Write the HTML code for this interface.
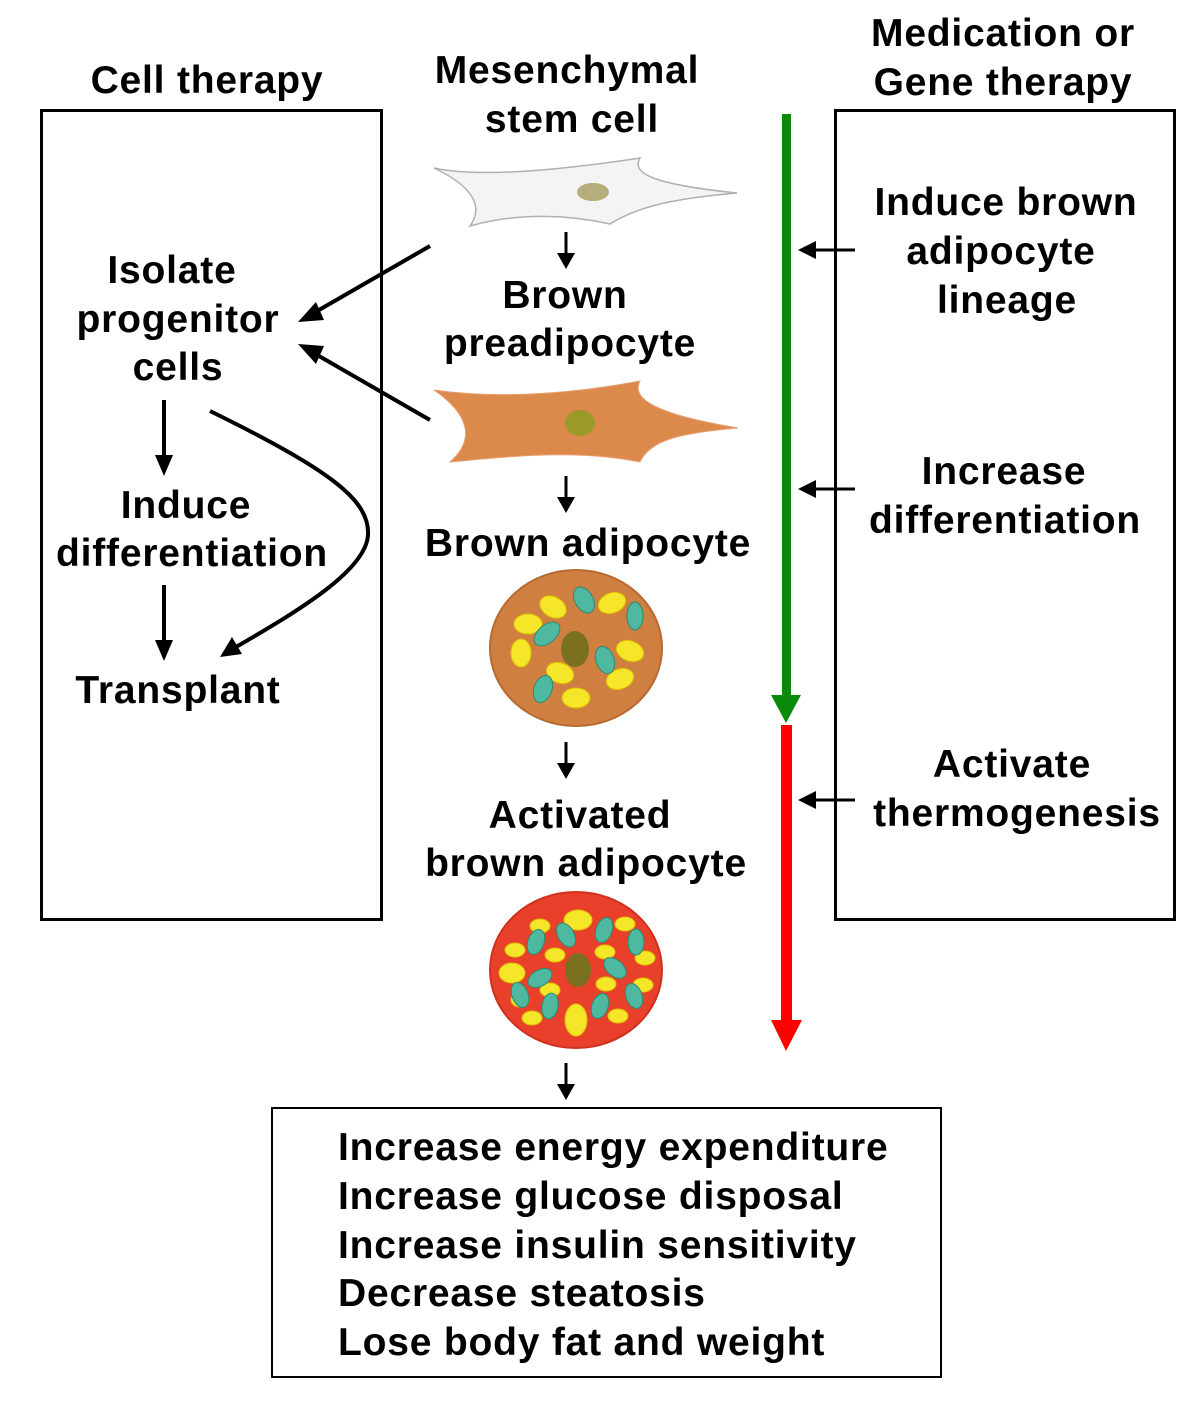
<!DOCTYPE html>
<html><head><meta charset="utf-8"><style>
html,body{margin:0;padding:0;background:#fff;}
svg{display:block;}
text{font-family:"Liberation Sans",Arial,sans-serif;font-weight:bold;font-size:39px;letter-spacing:0.8px;fill:#000;}
</style></head><body>
<svg width="1200" height="1401" viewBox="0 0 1200 1401" xmlns="http://www.w3.org/2000/svg">
<!-- boxes -->
<rect x="41.5" y="110.5" width="340" height="809" fill="none" stroke="#000" stroke-width="3"/>
<rect x="835.5" y="110.5" width="339" height="809" fill="none" stroke="#000" stroke-width="3"/>
<rect x="272" y="1108" width="669" height="269" fill="none" stroke="#000" stroke-width="2"/>

<!-- titles -->
<text x="207" y="93" text-anchor="middle">Cell therapy</text>
<text x="567" y="83" text-anchor="middle">Mesenchymal</text>
<text x="572" y="132" text-anchor="middle">stem cell</text>
<text x="1003" y="46" text-anchor="middle">Medication or</text>
<text x="1003" y="95" text-anchor="middle">Gene therapy</text>

<!-- left texts -->
<text x="172" y="283" text-anchor="middle">Isolate</text>
<text x="178" y="332" text-anchor="middle">progenitor</text>
<text x="178" y="380" text-anchor="middle">cells</text>
<text x="186" y="518" text-anchor="middle">Induce</text>
<text x="192" y="566" text-anchor="middle">differentiation</text>
<text x="178" y="703" text-anchor="middle">Transplant</text>

<!-- center texts -->
<text x="565" y="308" text-anchor="middle">Brown</text>
<text x="570" y="356" text-anchor="middle">preadipocyte</text>
<text x="588" y="556" text-anchor="middle">Brown adipocyte</text>
<text x="580" y="828" text-anchor="middle">Activated</text>
<text x="586" y="876" text-anchor="middle">brown adipocyte</text>

<!-- right texts -->
<text x="1006" y="215" text-anchor="middle">Induce brown</text>
<text x="1001" y="264" text-anchor="middle">adipocyte</text>
<text x="1007" y="313" text-anchor="middle">lineage</text>
<text x="1004" y="484" text-anchor="middle">Increase</text>
<text x="1005" y="533" text-anchor="middle">differentiation</text>
<text x="1012" y="777" text-anchor="middle">Activate</text>
<text x="1017" y="826" text-anchor="middle">thermogenesis</text>

<!-- bottom list -->
<text x="338" y="1160">Increase energy expenditure</text>
<text x="338" y="1209">Increase glucose disposal</text>
<text x="338" y="1258">Increase insulin sensitivity</text>
<text x="338" y="1306">Decrease steatosis</text>
<text x="338" y="1355">Lose body fat and weight</text>

<!-- green / red arrows -->
<rect x="782" y="114" width="9" height="585" fill="#0a8a0a"/>
<polygon points="771,695 801,695 786,723" fill="#0a8a0a"/>
<rect x="781" y="725" width="11" height="298" fill="#f00"/>
<polygon points="771,1020 802,1020 786,1051" fill="#f00"/>

<!-- right small arrows -->
<g stroke="#000" stroke-width="3" fill="#000">
<line x1="855" y1="250" x2="812" y2="250"/><polygon points="798,250 816,241 816,259" stroke="none"/>
<line x1="855" y1="489" x2="812" y2="489"/><polygon points="798,489 816,480 816,498" stroke="none"/>
<line x1="855" y1="800" x2="812" y2="800"/><polygon points="798,800 816,791 816,809" stroke="none"/>
</g>

<!-- center down arrows -->
<g stroke="#000" stroke-width="3">
<line x1="566" y1="232" x2="566" y2="256"/>
<line x1="566" y1="476" x2="566" y2="500"/>
<line x1="566" y1="742" x2="566" y2="766"/>
<line x1="566" y1="1063" x2="566" y2="1087"/>
</g>
<g fill="#000">
<polygon points="557,253 575,253 566,269"/>
<polygon points="557,497 575,497 566,513"/>
<polygon points="557,763 575,763 566,779"/>
<polygon points="557,1084 575,1084 566,1100"/>
</g>

<!-- left arrows -->
<g stroke="#000" stroke-width="4" fill="none">
<line x1="430" y1="246" x2="312" y2="314"/>
<line x1="430" y1="420" x2="312" y2="352"/>
<line x1="164" y1="400" x2="164" y2="460"/>
<line x1="164" y1="585" x2="164" y2="645"/>
<path d="M210,411 C330,470 370,500 368,535 C366,570 300,610 236,647"/>
</g>
<g fill="#000">
<polygon points="298,322 316,302 324,320"/>
<polygon points="298,344 324,346 316,364"/>
<polygon points="155,455 173,455 164,476"/>
<polygon points="155,640 173,640 164,661"/>
<polygon points="220,657 232,637 242,654"/>
</g>

<!-- MSC cell -->
<path d="M434,168 C480,178 560,170 640,158 C630,175 660,185 737,193 C680,198 640,205 610,224 C570,215 520,212 470,226 C485,205 470,185 434,168 z" fill="#f4f4f4" stroke="#b0b0b0" stroke-width="1.5"/>
<ellipse cx="593" cy="192" rx="16" ry="9" fill="#b5ad7a"/>

<!-- preadipocyte -->
<path d="M434,390 C490,398 560,396 640,381 C630,400 660,415 738,428 C680,433 650,440 640,462 C580,450 520,455 450,462 C475,440 470,415 434,390 z" fill="#dc8a4c" stroke="#e8a070" stroke-width="1"/>
<ellipse cx="580" cy="423" rx="15" ry="13" fill="#9a9a2a"/>

<!-- brown adipocyte -->
<ellipse cx="576" cy="648" rx="86" ry="78" fill="#cf8040" stroke="#b86a30" stroke-width="2"/>
<g fill="#f5e62a" stroke="#e0c000" stroke-width="1">
<ellipse cx="553" cy="607" rx="14" ry="10" transform="rotate(30 553 607)"/>
<ellipse cx="612" cy="603" rx="14" ry="10" transform="rotate(-20 612 603)"/>
<ellipse cx="528" cy="624" rx="14" ry="10"/>
<ellipse cx="521" cy="653" rx="10" ry="14"/>
<ellipse cx="560" cy="673" rx="14" ry="10" transform="rotate(20 560 673)"/>
<ellipse cx="630" cy="651" rx="14" ry="10" transform="rotate(20 630 651)"/>
<ellipse cx="620" cy="679" rx="14" ry="10" transform="rotate(-20 620 679)"/>
<ellipse cx="576" cy="698" rx="14" ry="10"/>
</g>
<g fill="#4fb8a0" stroke="#2a8a70" stroke-width="1">
<ellipse cx="584" cy="600" rx="9" ry="14" transform="rotate(-30 584 600)"/>
<ellipse cx="635" cy="616" rx="8" ry="14"/>
<ellipse cx="547" cy="634" rx="9" ry="15" transform="rotate(50 547 634)"/>
<ellipse cx="605" cy="660" rx="9" ry="14" transform="rotate(-20 605 660)"/>
<ellipse cx="543" cy="689" rx="9" ry="14" transform="rotate(20 543 689)"/>
</g>
<ellipse cx="575" cy="649" rx="14" ry="18" fill="#7a7020"/>

<!-- activated brown adipocyte -->
<ellipse cx="576" cy="970" rx="86" ry="78" fill="#e8402a" stroke="#d03020" stroke-width="2"/>
<g fill="#f5e62a" stroke="#e0c000" stroke-width="1">
<ellipse cx="578" cy="920" rx="14" ry="10"/>
<ellipse cx="540" cy="926" rx="10" ry="7"/>
<ellipse cx="625" cy="924" rx="10" ry="7"/>
<ellipse cx="515" cy="950" rx="10" ry="7"/>
<ellipse cx="555" cy="955" rx="10" ry="7"/>
<ellipse cx="605" cy="952" rx="10" ry="7"/>
<ellipse cx="512" cy="973" rx="13" ry="10"/>
<ellipse cx="645" cy="958" rx="10" ry="7"/>
<ellipse cx="550" cy="990" rx="10" ry="7"/>
<ellipse cx="606" cy="984" rx="10" ry="7"/>
<ellipse cx="643" cy="985" rx="10" ry="7"/>
<ellipse cx="532" cy="1018" rx="10" ry="7"/>
<ellipse cx="576" cy="1020" rx="11" ry="16"/>
<ellipse cx="618" cy="1016" rx="10" ry="7"/>
<ellipse cx="520" cy="1000" rx="9" ry="7"/>
</g>
<g fill="#4fb8a0" stroke="#2a8a70" stroke-width="1">
<ellipse cx="536" cy="942" rx="8" ry="13" transform="rotate(20 536 942)"/>
<ellipse cx="566" cy="935" rx="8" ry="13" transform="rotate(-30 566 935)"/>
<ellipse cx="604" cy="930" rx="8" ry="13" transform="rotate(20 604 930)"/>
<ellipse cx="636" cy="942" rx="8" ry="13"/>
<ellipse cx="540" cy="978" rx="8" ry="13" transform="rotate(60 540 978)"/>
<ellipse cx="615" cy="968" rx="8" ry="13" transform="rotate(-50 615 968)"/>
<ellipse cx="520" cy="995" rx="8" ry="13" transform="rotate(-20 520 995)"/>
<ellipse cx="550" cy="1006" rx="8" ry="13" transform="rotate(10 550 1006)"/>
<ellipse cx="600" cy="1006" rx="8" ry="13" transform="rotate(20 600 1006)"/>
<ellipse cx="634" cy="996" rx="8" ry="13" transform="rotate(-20 634 996)"/>
</g>
<ellipse cx="578" cy="970" rx="13" ry="17" fill="#7a7020"/>
</svg>
</body></html>
